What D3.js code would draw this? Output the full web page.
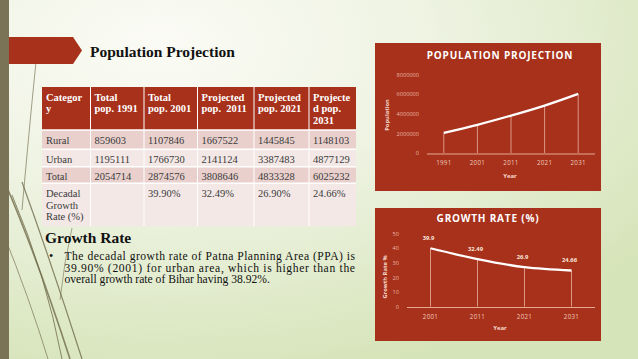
<!DOCTYPE html>
<html><head><meta charset="utf-8">
<script src="https://cdn.jsdelivr.net/npm/d3@7/dist/d3.min.js"></script>
<style>html,body{margin:0;padding:0;overflow:hidden;}svg{display:block;}</style>
</head><body>
<script>
// ---- data ----
const tableHeaders = ["Categor\ny", "Total\npop. 1991", "Total\npop. 2001", "Projected\npop.  2011", "Projected\npop. 2021", "Projecte\nd pop.\n2031"];
const rowLabels = ["Rural", "Urban", "Total", "Decadal\nGrowth\nRate (%)"];
const ruralPop = ["859603", "1107846", "1667522", "1445845", "1148103"];
const urbanPop = ["1195111", "1766730", "2141124", "3387483", "4877129"];
const totalPopText = ["2054714", "2874576", "3808646", "4833328", "6025232"];
const growthText = ["", "39.90%", "32.49%", "26.90%", "24.66%"];

const popYears = ["1991", "2001", "2011", "2021", "2031"];
const popTotal = [2054714, 2874576, 3808646, 4833328, 6025232];
const popTicks = [0, 2000000, 4000000, 6000000, 8000000];

const growthYears = ["2001", "2011", "2021", "2031"];
const growthRate = [39.9, 32.49, 26.9, 24.66];
const growthTicks = [0, 10, 20, 30, 40, 50];

const W = 638, H = 359;
const RED = "#a7311b";
const svg = d3.select("body").append("svg").attr("width", W).attr("height", H);
const defs = svg.append("defs");
const bg = defs.append("radialGradient").attr("id", "bg").attr("cx", "0.25").attr("cy", "0.12").attr("r", "0.95");
bg.append("stop").attr("offset", "0").attr("stop-color", "#fbfbf5");
bg.append("stop").attr("offset", "0.45").attr("stop-color", "#eef3e2");
bg.append("stop").attr("offset", "1").attr("stop-color", "#d6e4b9");
svg.append("rect").attr("width", W).attr("height", H).attr("fill", "url(#bg)");

// decorative strands
const deco = svg.append("g").attr("fill", "none").attr("stroke", "#6f6a4a");
[["M36,62 Q30,120 22,210", 0.8], ["M6,185 Q38,260 70,359", 1.6], ["M12,195 Q46,275 62,359", 1.0],
 ["M22,182 Q52,265 82,359", 1.2], ["M2,230 Q30,300 48,359", 0.8], ["M72,228 Q64,262 60,300", 0.7]]
 .forEach(([d, w]) => deco.append("path").attr("d", d).attr("stroke-width", w).attr("opacity", 0.8));

// left bar
svg.append("rect").attr("x", 0).attr("y", 0).attr("width", 9).attr("height", H).attr("fill", "#7a7356");
// chevron
svg.append("path").attr("d", "M9,37 L73,37 L82,50.5 L73,64 L9,64 Z").attr("fill", "#a8311b");
svg.append("text").attr("x", 90).attr("y", 57).attr("font-family", "Liberation Serif").attr("font-weight", "bold")
  .attr("font-size", 15.5).attr("fill", "#111").text("Population Projection");

// ---- table ----
const colX = [42, 90.5, 144, 197.5, 254, 309, 356];
const rowY = [87, 130, 149.3, 166.7, 183.3, 226];
const rowFill = ["#e9d0cd", "#f3e8e6", "#e9d0cd", "#f3e8e6"];
const tbl = svg.append("g").attr("font-family", "Liberation Serif").attr("font-size", 10.5);
tbl.append("rect").attr("x", colX[0]).attr("y", rowY[0]).attr("width", colX[6] - colX[0]).attr("height", rowY[1] - rowY[0]).attr("fill", RED);
const rows = [[rowLabels[0], ...ruralPop], [rowLabels[1], ...urbanPop], [rowLabels[2], ...totalPopText], [rowLabels[3], ...growthText]];
rows.forEach((r, i) => {
  tbl.append("rect").attr("x", colX[0]).attr("y", rowY[i + 1]).attr("width", colX[6] - colX[0]).attr("height", rowY[i + 2] - rowY[i + 1]).attr("fill", rowFill[i]);
});
function multiText(g, x, y0, str, step) {
  const t = g.append("text").attr("x", x).attr("y", y0).style("white-space", "pre");
  str.split("\n").forEach((ln, k) => t.append("tspan").attr("x", x).attr("y", y0 + k * step).text(ln));
  return t;
}
tableHeaders.forEach((h, j) => {
  multiText(tbl, colX[j] + 4, 100.5, h, 11.8).attr("fill", "#fff").attr("font-weight", "bold");
});
rows.forEach((r, i) => {
  r.forEach((c, j) => {
    if (c) multiText(tbl, colX[j] + 4, rowY[i + 1] + 13.5, c, 11.8).attr("fill", "#3a3a3a");
  });
});
// borders
colX.slice(1, 6).forEach(x => tbl.append("line").attr("x1", x).attr("x2", x).attr("y1", rowY[0]).attr("y2", rowY[5]).attr("stroke", "#fff").attr("stroke-width", 1));
rowY.slice(1, 5).forEach(y => tbl.append("line").attr("x1", colX[0]).attr("x2", colX[6]).attr("y1", y).attr("y2", y).attr("stroke", "#fff").attr("stroke-width", 1.5));

// ---- text ----
const tx = svg.append("g").attr("font-family", "Liberation Serif").attr("fill", "#111");
tx.append("text").attr("x", 45).attr("y", 243).attr("font-weight", "bold").attr("font-size", 15.5).text("Growth Rate");
tx.append("text").attr("x", 49).attr("y", 260).attr("font-size", 12).text("•");
const para = ["The decadal growth rate of Patna Planning Area (PPA) is", "39.90% (2001) for urban area, which is higher than the", "overall growth rate of Bihar having 38.92%."];
const pt = tx.append("text").attr("font-size", 11.6);
para.forEach((p, i) => {
  const s = pt.append("tspan").attr("x", 64.5).attr("y", 260 + i * 11.7).text(p);
  if (i < 2) s.attr("textLength", 290.5).attr("lengthAdjust", "spacing");
});

// ---- chart helper ----
function drawChart(o) {
  const g = svg.append("g").attr("font-family", "Open Sans");
  g.append("rect").attr("x", o.px).attr("y", o.py).attr("width", o.pw).attr("height", o.ph).attr("fill", RED);
  g.append("text").attr("x", o.titleX).attr("y", o.titleY).attr("text-anchor", "middle").attr("fill", "#fff")
    .attr("font-weight", "bold").attr("font-size", 10).attr("letter-spacing", 0.8).text(o.title);
  const x = d3.scaleBand().domain(o.cats).range(o.xr);
  const y = d3.scaleLinear().domain([0, o.ymax]).range(o.yr);
  const ya = g.append("g").attr("transform", `translate(${o.yAxisX},0)`)
    .call(d3.axisLeft(y).tickValues(o.ticks).tickFormat(d3.format("d")).tickSize(0).tickPadding(0));
  ya.select(".domain").remove();
  ya.selectAll("text").attr("fill", "#e9b5a4").attr("font-size", 5.6).attr("font-family", "Open Sans");
  g.append("line").attr("x1", o.xr[0]).attr("x2", o.xr[1]).attr("y1", y(0) + 1).attr("y2", y(0) + 1).attr("stroke", "#e6a994").attr("stroke-width", 1.2);
  const xa = g.append("g").attr("transform", `translate(0,${y(0) + 1})`)
    .call(d3.axisBottom(x).tickSize(0).tickPadding(7));
  xa.select(".domain").remove();
  xa.selectAll("text").attr("fill", "#f0c9bb").attr("font-size", 6.2).attr("font-family", "Open Sans").attr("letter-spacing", 0.3);
  const cx = d => x(d) + x.bandwidth() / 2;
  g.selectAll(".drop").data(o.vals).join("line").attr("x1", (d, i) => cx(o.cats[i])).attr("x2", (d, i) => cx(o.cats[i]))
    .attr("y1", d => y(d)).attr("y2", y(0)).attr("stroke", "#e8b3a2").attr("stroke-width", 0.8);
  const line = d3.line().x((d, i) => cx(o.cats[i])).y(d => y(d)).curve(d3.curveMonotoneX);
  g.append("path").attr("d", line(o.vals)).attr("fill", "none").attr("stroke", "#fff").attr("stroke-width", 2.3);
  if (o.labels) {
    g.selectAll(".lbl").data(o.vals).join("text").attr("x", (d, i) => cx(o.cats[i]) - 2).attr("y", d => y(d) - 8)
      .attr("text-anchor", "middle").attr("fill", "#fbe6dc").attr("font-size", 5.8).attr("font-weight", "bold").text(d => String(d));
  }
  g.append("text").attr("x", o.xTitleX).attr("y", o.xTitleY).attr("text-anchor", "middle").attr("fill", "#f6d8cc")
    .attr("font-weight", "bold").attr("font-size", 6).text("Year");
  g.append("text").attr("transform", `translate(${o.yTitleX},${o.yTitleY}) rotate(-90)`).attr("text-anchor", "middle")
    .attr("fill", "#f6d8cc").attr("font-weight", "bold").attr("font-size", 5.8).text(o.yTitle);
}

drawChart({ px: 375, py: 43, pw: 226, ph: 148, title: "POPULATION PROJECTION", titleX: 500, titleY: 58.5,
  cats: popYears, vals: popTotal, xr: [427, 595], yr: [153, 74.5], ymax: 8000000, ticks: popTicks, yAxisX: 419,
  xTitleX: 510, xTitleY: 178, yTitleX: 389, yTitleY: 115, yTitle: "Population", labels: false });

drawChart({ px: 375, py: 208, pw: 226, ph: 133, title: "GROWTH RATE (%)", titleX: 488, titleY: 222,
  cats: growthYears, vals: growthRate, xr: [407, 595], yr: [306.5, 233.5], ymax: 50, ticks: growthTicks, yAxisX: 399,
  xTitleX: 500, xTitleY: 330, yTitleX: 387, yTitleY: 277, yTitle: "Growth Rate %", labels: true });
</script>
</body></html>
